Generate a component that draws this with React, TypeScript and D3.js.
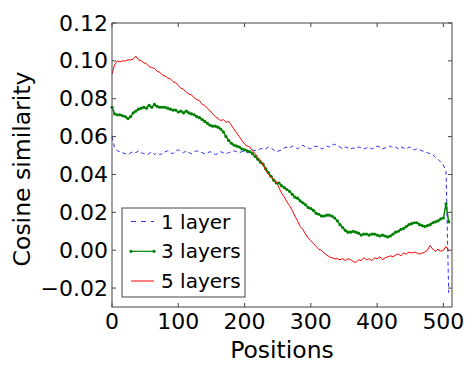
import React from "react";
import * as d3 from "d3";

const width = 474;
const height = 373;
const margin = { top: 23, right: 22, bottom: 66, left: 112 };

// positions are sampled every 4 tokens
const step = 4;

const oneLayer = [
  0.060, 0.054, 0.0525, 0.052, 0.0515, 0.051, 0.0505, 0.0515, 0.052, 0.0515, 0.0525, 0.0515, 0.051, 0.0505, 0.051, 0.052,
  0.0505, 0.0515, 0.0505, 0.051, 0.052, 0.0525, 0.0515, 0.051, 0.0525, 0.053, 0.052, 0.0515, 0.0525, 0.0515, 0.051, 0.052,
  0.0525, 0.052, 0.0515, 0.051, 0.0515, 0.052, 0.0515, 0.0505, 0.051, 0.052, 0.0515, 0.051, 0.0515, 0.052, 0.0525, 0.052,
  0.0515, 0.052, 0.0525, 0.0515, 0.052, 0.053, 0.0525, 0.053, 0.0535, 0.054, 0.0535, 0.0545, 0.054, 0.053, 0.052, 0.0525,
  0.053, 0.054, 0.0545, 0.054, 0.055, 0.0545, 0.0535, 0.0545, 0.0555, 0.0545, 0.054, 0.0535, 0.0545, 0.055, 0.0545, 0.0535,
  0.054, 0.055, 0.0545, 0.0555, 0.056, 0.055, 0.0545, 0.0535, 0.0545, 0.054, 0.0535, 0.054, 0.0535, 0.0545, 0.054, 0.0535,
  0.054, 0.0545, 0.0535, 0.054, 0.055, 0.0545, 0.0535, 0.054, 0.0545, 0.055, 0.054, 0.0545, 0.0535, 0.0545, 0.054, 0.0535,
  0.0545, 0.054, 0.053, 0.0535, 0.053, 0.0525, 0.052, 0.0515, 0.051, 0.0505, 0.049, 0.048, 0.0465, 0.045, 0.0415, -0.0225,
];

const threeLayers = [
  0.0755, 0.072, 0.0715, 0.0715, 0.071, 0.0705, 0.0695, 0.0705, 0.0725, 0.0735, 0.0745, 0.075, 0.0755, 0.075, 0.0765, 0.0755,
  0.077, 0.076, 0.0755, 0.0755, 0.0755, 0.075, 0.0745, 0.074, 0.074, 0.073, 0.0735, 0.0725, 0.0735, 0.0725, 0.072, 0.0715,
  0.0705, 0.07, 0.069, 0.068, 0.067, 0.066, 0.0655, 0.0655, 0.065, 0.064, 0.0625, 0.06, 0.058, 0.0565, 0.0555, 0.055,
  0.0545, 0.0535, 0.053, 0.0525, 0.052, 0.051, 0.0495, 0.048, 0.0465, 0.0455, 0.043, 0.041, 0.039, 0.037, 0.0355, 0.0355,
  0.034, 0.033, 0.032, 0.031, 0.0295, 0.028, 0.0275, 0.026, 0.025, 0.024, 0.0225, 0.022, 0.021, 0.0195, 0.019, 0.018,
  0.018, 0.0185, 0.0185, 0.018, 0.017, 0.0155, 0.0135, 0.012, 0.0105, 0.0095, 0.0095, 0.01, 0.0095, 0.009, 0.008, 0.0085,
  0.0085, 0.008, 0.0085, 0.0085, 0.008, 0.0075, 0.008, 0.0075, 0.007, 0.0075, 0.0085, 0.0095, 0.01, 0.011, 0.0115, 0.0125,
  0.0135, 0.014, 0.0145, 0.0145, 0.0135, 0.013, 0.0125, 0.013, 0.0135, 0.0145, 0.015, 0.0155, 0.0165, 0.017, 0.0245, 0.015,
];

const fiveLayers = [
  0.093, 0.098, 0.1, 0.0995, 0.1, 0.1, 0.1005, 0.1005, 0.101, 0.1025, 0.1005, 0.1, 0.099, 0.0985, 0.097, 0.0965,
  0.096, 0.0945, 0.094, 0.0925, 0.092, 0.091, 0.0905, 0.089, 0.0885, 0.087, 0.0855, 0.085, 0.0835, 0.0825, 0.082, 0.0805,
  0.0795, 0.079, 0.077, 0.0765, 0.075, 0.0735, 0.072, 0.0705, 0.0695, 0.0685, 0.069, 0.0675, 0.068, 0.066, 0.064, 0.062,
  0.06, 0.058, 0.056, 0.055, 0.0545, 0.0525, 0.051, 0.049, 0.0475, 0.045, 0.042, 0.04, 0.0385, 0.0375, 0.036, 0.033,
  0.03, 0.028, 0.0255, 0.0235, 0.021, 0.018, 0.0155, 0.0125, 0.011, 0.0085, 0.0065, 0.005, 0.0035, 0.002, 0.0005, 0.0,
  -0.0015, -0.0025, -0.0035, -0.004, -0.0045, -0.0045, -0.005, -0.0045, -0.0055, -0.0045, -0.005, -0.006, -0.0065, -0.005, -0.0055, -0.004,
  -0.005, -0.0045, -0.0055, -0.004, -0.0045, -0.0035, -0.005, -0.004, -0.0035, -0.003, -0.0035, -0.0025, -0.002, -0.003, -0.0015, -0.002,
  -0.001, -0.0015, -0.001, -0.0015, -0.002, -0.0015, -0.001, 0.0, 0.0025, 0.0005, -0.0005, 0.0005, -0.0005, 0.0, 0.002, -0.0005,
];

const xTicks = [0, 100, 200, 300, 400, 500];
const yTicks = [-0.02, 0.0, 0.02, 0.04, 0.06, 0.08, 0.1, 0.12];

const legendLabels = ["1 layer", "3 layers", "5 layers"];

const font = "DejaVu Sans, sans-serif";
const spine = "#444";
const blue = "#3030ff";

export default function App() {
  const x = d3
    .scaleLinear()
    .domain([0, 513])
    .range([margin.left, width - margin.right]);
  const y = d3
    .scaleLinear()
    .domain([-0.03, 0.12])
    .range([height - margin.bottom, margin.top]);

  const line = d3
    .line<number>()
    .x((d, i) => x(i * step))
    .y(d => y(d));

  const fmt = (v: number) => d3.format(".2f")(v).replace("-", "\u2212");

  const left = margin.left;
  const right = width - margin.right;
  const top = margin.top;
  const bottom = height - margin.bottom;

  const legendX = 122;
  const legendY = 208;
  const rowY = [221.5, 251.3, 281];

  return (
    <svg
      width={width}
      height={height}
      style={{ position: "absolute", left: 0, top: 0, background: "#fff" }}
      fontFamily={font}
    >
      <rect width={width} height={height} fill="#fff" />
      {/* series */}
      <path d={line(oneLayer) || ""} fill="none" stroke={blue} strokeWidth={1} strokeDasharray="4,3" />
      <path d={line(threeLayers) || ""} fill="none" stroke="#008000" strokeWidth={1.5} />
      {threeLayers.map((d, i) => (
        <circle key={i} cx={x(i * step)} cy={y(d)} r={1.6} fill="#008000" />
      ))}
      <path d={line(fiveLayers) || ""} fill="none" stroke="#ff0000" strokeWidth={1} />

      {/* frame */}
      <rect x={left} y={top} width={right - left} height={bottom - top} fill="none" stroke={spine} strokeWidth={1} />

      {/* x ticks */}
      {xTicks.map(t => (
        <g key={t}>
          <line x1={x(t)} x2={x(t)} y1={bottom} y2={bottom - 4} stroke={spine} />
          <line x1={x(t)} x2={x(t)} y1={top} y2={top + 4} stroke={spine} />
          <text x={x(t)} y={329} textAnchor="middle" fontSize={22} fill="#000">
            {t}
          </text>
        </g>
      ))}
      {/* y ticks */}
      {yTicks.map(t => (
        <g key={t}>
          <line x1={left} x2={left + 4} y1={y(t)} y2={y(t)} stroke={spine} />
          <line x1={right} x2={right - 4} y1={y(t)} y2={y(t)} stroke={spine} />
          <text x={108} y={y(t)} textAnchor="end" dominantBaseline="central" fontSize={22} fill="#000">
            {fmt(t)}
          </text>
        </g>
      ))}

      {/* axis labels */}
      <text x={(left + right) / 2} y={358} textAnchor="middle" fontSize={23.5} fill="#000">
        Positions
      </text>
      <text transform={`translate(30,${169}) rotate(-90)`} textAnchor="middle" fontSize={23.5} fill="#000">
        Cosine similarity
      </text>

      {/* legend */}
      <rect x={legendX} y={legendY} width={123} height={89} fill="#fff" stroke={spine} strokeWidth={1} />
      <line x1={131} x2={154} y1={rowY[0]} y2={rowY[0]} stroke={blue} strokeDasharray="5,5" />
      <line x1={131} x2={154} y1={rowY[1]} y2={rowY[1]} stroke="#008000" strokeWidth={1.2} />
      <circle cx={131} cy={rowY[1]} r={1.6} fill="#008000" />
      <circle cx={154} cy={rowY[1]} r={1.6} fill="#008000" />
      <line x1={131} x2={154} y1={rowY[2]} y2={rowY[2]} stroke="#ff0000" />
      {legendLabels.map((l, i) => (
        <text key={l} x={161} y={rowY[i]} dominantBaseline="central" fontSize={20} fill="#000">
          {l}
        </text>
      ))}
    </svg>
  );
}
